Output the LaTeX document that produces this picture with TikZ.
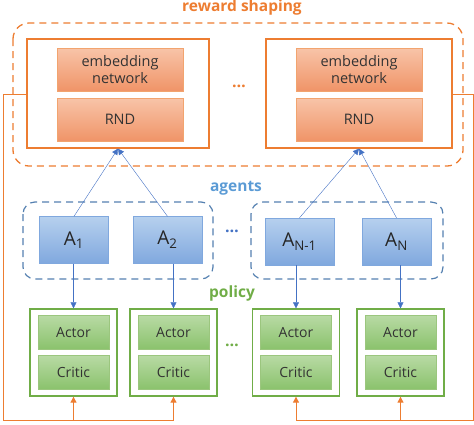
\documentclass[tikz,border=0pt]{standalone}
\usepackage{fontspec}
\setmainfont{Open Sans}
\usepackage{tikz}
\usetikzlibrary{arrows.meta}

\definecolor{orline}{RGB}{237,125,49}
\definecolor{orlight}{RGB}{248,196,168}
\definecolor{ordark}{RGB}{240,148,104}
\definecolor{blline}{RGB}{68,114,196}
\definecolor{bldash}{RGB}{84,128,176}
\definecolor{bllight}{RGB}{182,208,238}
\definecolor{bldark}{RGB}{128,168,222}
\definecolor{bltext}{RGB}{91,155,213}
\definecolor{grline}{RGB}{112,173,71}
\definecolor{grlight}{RGB}{184,218,164}
\definecolor{grdark}{RGB}{138,194,108}

\tikzset{
    rsbox/.style={draw=orline, line width=1.3pt, minimum width=#1, minimum height=109pt, inner sep=0pt},
    orinner/.style={draw=orline!70, top color=orlight, bottom color=ordark, minimum width=126pt, minimum height=43pt, inner sep=0pt, align=center, font=\fontsize{14.5}{17.5}\selectfont, text=black!80},
    agbox/.style={draw=bldark, top color=bllight, bottom color=bldark, minimum width=69pt, minimum height=47pt, inner sep=0pt, font=\fontsize{19}{21}\selectfont, text=black!85},
    polbox/.style={draw=grline, line width=1.3pt, minimum width=87pt, minimum height=87pt, inner sep=0pt},
    grinner/.style={draw=grline!70, top color=grlight, bottom color=grdark, minimum width=71pt, minimum height=34pt, inner sep=0pt, font=\fontsize{14}{16}\selectfont, text=black!80},
    title/.style={font=\bfseries\fontsize{15.5}{17}\selectfont},
    bltip/.style={draw=blline, arrows={-{Triangle[length=6pt, width=6pt]}}},
    ortip/.style={draw=orline, line width=0.9pt, arrows={-{Triangle[length=6pt, width=6pt]}}}
}

\begin{document}
\begin{tikzpicture}[x=1pt, y=-1pt]
        \useasboundingbox (0, 0) rectangle (474, 424);
        \node [title, text=orline] (rstitle) at (242, 7.5) {reward shaping};
        \path [draw=orline, line width=1.3pt, dashed, dash pattern=on 7pt off 5pt, rounded corners=16pt] (13, 23) rectangle (463, 166);
        \node [rsbox=182pt] (rsl) at (118, 93.5) {};
        \node [rsbox=186pt] (rsr) at (359, 93.5) {};
        \node [orinner] (embl) at (120, 69.5) {embedding\\network};
        \node [orinner] (rndl) at (120, 119.5) {RND};
        \node [orinner] (embr) at (359, 69.5) {embedding\\network};
        \node [orinner] (rndr) at (359, 119.5) {RND};
        \node [font=\bfseries\fontsize{16}{16}\selectfont, text=orline] (dotstop) at (239, 86) {\dots};

        \node [title, text=bltext] (agtitle) at (236, 188) {agents};
        \path [draw=bldash, line width=1.2pt, dashed, dash pattern=on 7pt off 5pt, rounded corners=12pt] (23, 202) rectangle (213, 279);
        \path [draw=bldash, line width=1.2pt, dashed, dash pattern=on 7pt off 5pt, rounded corners=12pt] (251, 202) rectangle (443, 279);
        \node [agbox] (aone) at (74, 240) {A\textsubscript{1}};
        \node [agbox] (atwo) at (167.5, 240) {A\textsubscript{2}};
        \node [agbox] (anm) at (299.5, 241.5) {A\textsubscript{N-1}};
        \node [agbox] (an) at (396.5, 241.5) {A\textsubscript{N}};
        \node [font=\bfseries\fontsize{16}{16}\selectfont, text=blline] (dotsmid) at (232, 231) {\dots};

        \node [title, text=grline] (poltitle) at (232, 293) {policy};
        \node [polbox] (polone) at (73.5, 352.5) {};
        \node [polbox] (poltwo) at (173.5, 352.5) {};
        \node [polbox] (polthree) at (296, 352.5) {};
        \node [polbox] (polfour) at (400.5, 352.5) {};
        \node [grinner] (actone) at (73.5, 332.5) {Actor};
        \node [grinner] (critone) at (73.5, 372.5) {Critic};
        \node [grinner] (acttwo) at (173.5, 332.5) {Actor};
        \node [grinner] (crittwo) at (173.5, 372.5) {Critic};
        \node [grinner] (actthree) at (296, 332.5) {Actor};
        \node [grinner] (critthree) at (296, 372.5) {Critic};
        \node [grinner] (actfour) at (400.5, 332.5) {Actor};
        \node [grinner] (critfour) at (400.5, 372.5) {Critic};
        \node [font=\bfseries\fontsize{16}{16}\selectfont, text=grline] (dotsbot) at (232, 345) {\dots};

        \draw [bltip] (aone.north) -- (rsl.south);
        \draw [bltip] (atwo.north) -- (rsl.south);
        \draw [bltip] (anm.north) -- (rsr.south);
        \draw [bltip] (an.north) -- (rsr.south);
        \draw [bltip] (polone.north |- aone.south) -- (polone.north);
        \draw [bltip] (poltwo.north |- atwo.south) -- (poltwo.north);
        \draw [bltip] (polthree.north |- anm.south) -- (polthree.north);
        \draw [bltip] (polfour.north |- an.south) -- (polfour.north);

        \coordinate (lcorner) at (3, 420);
        \coordinate (rcorner) at (473, 420);
        \path [draw=orline, line width=0.9pt] (rsl.west |- 0, 94) -| (lcorner) -- (lcorner -| poltwo.south);
        \path [draw=orline, line width=0.9pt] (rsr.east |- 0, 94) -| (rcorner) -- (rcorner -| polthree.south);
        \draw [ortip] (lcorner -| polone.south) -- (polone.south);
        \draw [ortip] (lcorner -| poltwo.south) -- (poltwo.south);
        \draw [ortip] (rcorner -| polthree.south) -- (polthree.south);
        \draw [ortip] (rcorner -| polfour.south) -- (polfour.south);
    \end{tikzpicture}
\end{document}
